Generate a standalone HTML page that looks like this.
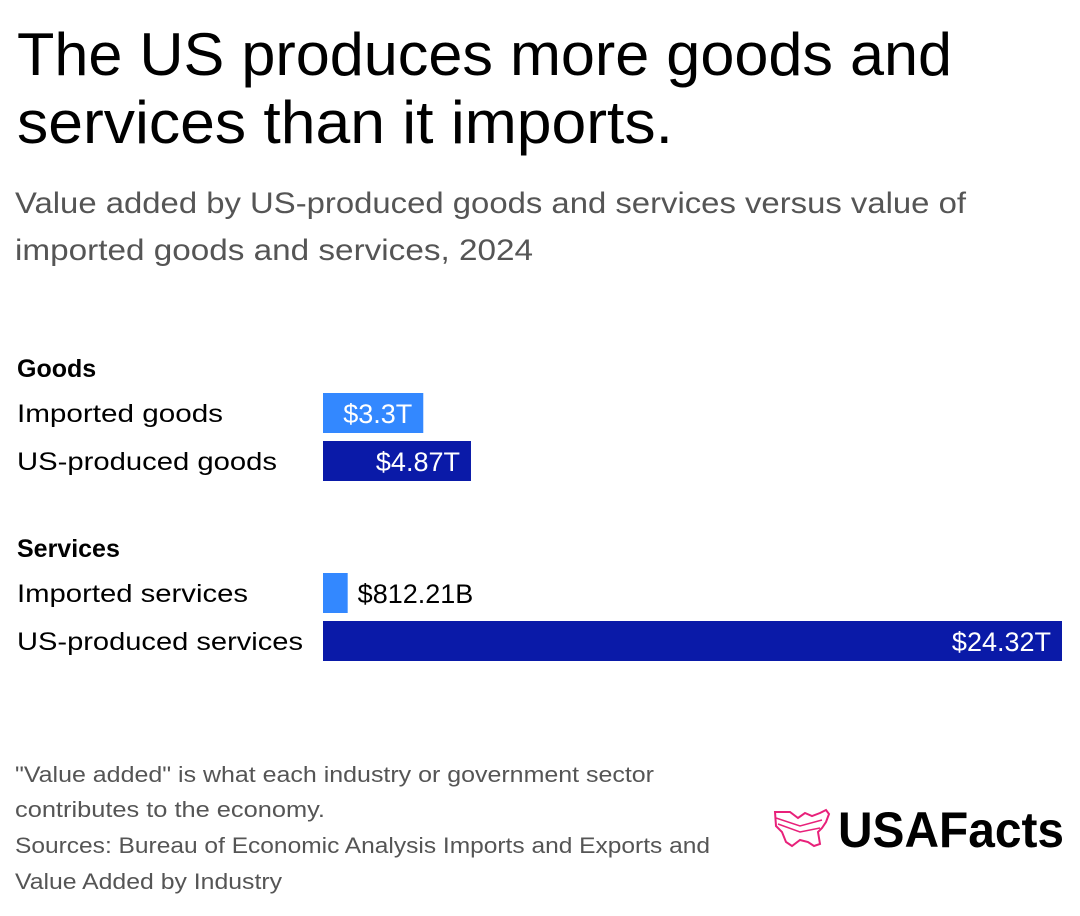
<!DOCTYPE html>
<html><head><meta charset="utf-8"><style>
html,body{margin:0;padding:0;background:#fff;}
svg{display:block;font-family:"Liberation Sans",sans-serif;}
</style></head><body>
<svg width="1080" height="916" viewBox="0 0 1080 916">
<g font-size="60" fill="#000">
<text x="17" y="75" textLength="935" lengthAdjust="spacingAndGlyphs">The US produces more goods and</text>
<text x="17" y="143" textLength="656" lengthAdjust="spacingAndGlyphs">services than it imports.</text>
</g>
<g font-size="30" fill="#555">
<text x="15" y="213" textLength="951" lengthAdjust="spacingAndGlyphs">Value added by US-produced goods and services versus value of</text>
<text x="15" y="260" textLength="518" lengthAdjust="spacingAndGlyphs">imported goods and services, 2024</text>
</g>
<g id="bars"></g>
<g font-size="22" fill="#555">
<text x="15" y="782" textLength="639" lengthAdjust="spacingAndGlyphs">"Value added" is what each industry or government sector</text>
<text x="15" y="817" textLength="310" lengthAdjust="spacingAndGlyphs">contributes to the economy.</text>
<text x="15" y="853" textLength="695" lengthAdjust="spacingAndGlyphs">Sources: Bureau of Economic Analysis Imports and Exports and</text>
<text x="15" y="889" textLength="267" lengthAdjust="spacingAndGlyphs">Value Added by Industry</text>
</g>
<g>
<path d="M775 812 L790 812 L798 818 L805 813 L812 816 L820 813 L826 810 L829 814 L826 822 L822 828 L818 832 L820 844 L814 846 L808 842 L800 840 L792 846 L786 842 L782 832 L776 826 Z" fill="none" stroke="#e8217a" stroke-width="2"/>
<path d="M776 818 L800 826 L822 820 M778 824 L800 832 L820 828" fill="none" stroke="#e8217a" stroke-width="1.5"/>
<text x="838" y="847" font-size="50" font-weight="bold" fill="#000" textLength="226" lengthAdjust="spacingAndGlyphs">USAFacts</text>
</g>
<script>
const categories=["Imported goods","US-produced goods","Imported services","US-produced services"];
const values=[3.3,4.87,0.81221,24.32];
const valueLabels=["$3.3T","$4.87T","$812.21B","$24.32T"];
const groups=["Goods","Services"];
const ns="http://www.w3.org/2000/svg";
const g=document.getElementById("bars");
const x0=323,xMax=24.32,wMax=739;
function xs(v){return v/xMax*wMax;}
const rowY=[393,441,573,621];
const labelW=[206,260,231,286];
const colors=["#3388ff","#0a1aa8","#3388ff","#0a1aa8"];
groups.forEach((t,i)=>{
 const el=document.createElementNS(ns,"text");
 
 
 el.setAttribute("x",17);el.setAttribute("y",i?557:377);
 el.setAttribute("font-size","25");el.setAttribute("font-weight","bold");
 el.textContent=t;g.appendChild(el);
});
categories.forEach((c,i)=>{
 const y=rowY[i],w=xs(values[i]);
 const lb=document.createElementNS(ns,"text");
 
 
 lb.setAttribute("x",17);lb.setAttribute("y",y+29);lb.setAttribute("font-size","25");
 lb.setAttribute("textLength",labelW[i]);lb.setAttribute("lengthAdjust","spacingAndGlyphs");
 lb.textContent=c;g.appendChild(lb);
 const r=document.createElementNS(ns,"rect");
 
 
 r.setAttribute("x",x0);r.setAttribute("y",y);r.setAttribute("width",w);r.setAttribute("height",40);
 r.setAttribute("fill",colors[i]);g.appendChild(r);
 const v=document.createElementNS(ns,"text");
 
 
 v.setAttribute("y",y+30);v.setAttribute("font-size","27");
 if(w>90){v.setAttribute("x",x0+w-11);v.setAttribute("text-anchor","end");v.setAttribute("fill","#fff");}
 else{v.setAttribute("x",x0+w+10);v.setAttribute("fill","#000");}
 v.textContent=valueLabels[i];g.appendChild(v);
});
</script>
</svg>
</body></html>
